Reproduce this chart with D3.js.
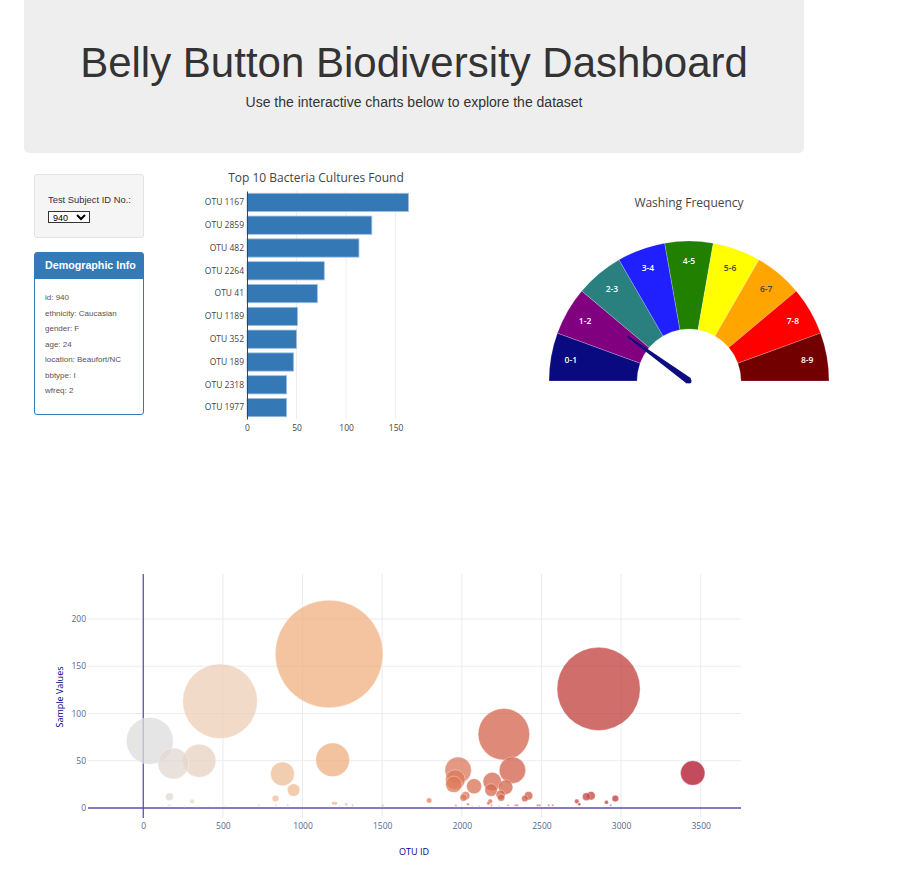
<!DOCTYPE html>
<html>
<head>
<meta charset="utf-8">
<script src="https://d3js.org/d3.v7.min.js"></script>
<style>
  body { margin: 0; background: #fff; font-family: "Liberation Sans", Arial, sans-serif; color: #333; }
  #page { position: relative; width: 921px; height: 885px; overflow: hidden; }
  #charts { position: absolute; left: 0; top: 0; }
  .jumbo { position: absolute; left: 24px; top: 0; width: 780px; height: 153px; background: #eeeeee; border-radius: 0 0 5px 5px; }
  .well { position: absolute; left: 34px; top: 174px; width: 108px; height: 62px; background: #f5f5f5; border: 1px solid #e3e3e3; border-radius: 3px; }
  .panel { position: absolute; left: 34px; top: 252px; width: 108px; height: 161px; border: 1px solid #337ab7; border-radius: 3px; background: #fff; }
  .panel-heading { background: #337ab7; color: #fff; height: 26px; line-height: 25px; padding-left: 10px; font-size: 10.7px; font-weight: bold; }
  .panel-body p { margin: 0; position: absolute; left: 10px; font-size: 8px; color: #555; }
  select { position: absolute; left: 13px; top: 36px; width: 42px; height: 12px; font-size: 9px; padding: 0; border: 1px solid #333; background: #fff; font-family: "Liberation Sans", Arial, sans-serif; }
</style>
</head>
<body>
<div id="page">
  <div class="jumbo"></div>
  <svg id="charts" width="921" height="885"></svg>
  <div class="well">
    <div id="lbl" style="position:absolute;left:13px;top:19px;font-size:9.4px;color:#333;">Test Subject ID No.:</div>
    <select id="selDataset"></select>
  </div>
  <div class="panel">
    <div class="panel-heading">Demographic Info</div>
    <div class="panel-body" id="sample-metadata"></div>
  </div>
</div>
<script>
// sample 940
const otuIds = [1167, 2859, 482, 2264, 41, 1189, 352, 189, 2318, 1977,
  3450, 874, 1959, 2191, 1950, 2077, 2275, 944, 2184, 2244,
  2024, 2419, 2811, 165, 2782, 2247, 2011, 2396, 830, 2964,
  1795, 2722, 307, 2178, 2908, 1193, 2167, 1208, 2039, 1274,
  2739, 2737, 1314, 1962, 2186, 2335, 2936, 907, 833, 2483,
  2475, 2491, 2291, 159, 2571, 2350, 2342, 2546, 725, 170,
  1505, 513, 259, 1169, 258, 1232, 1497, 1498, 1503, 412,
  2235, 1960, 1968, 121, 2065, 340, 2110, 2188, 357, 342];
const sampleValues = [163, 126, 113, 78, 71, 51, 50, 47, 40, 40,
  37, 36, 30, 28, 25, 23, 22, 19, 19, 14,
  13, 13, 13, 12, 12, 11, 11, 10, 10, 10,
  8, 7, 7, 7, 6, 5, 5, 5, 4, 4,
  4, 4, 3, 3, 3, 3, 3, 3, 3, 3,
  3, 3, 3, 3, 3, 3, 3, 3, 3, 3,
  3, 2, 2, 2, 2, 2, 2, 2, 2, 2,
  2, 2, 2, 2, 2, 2, 2, 2, 2, 2];
const subjectIds = ["940", "941", "943", "944", "945", "946", "947", "948"];
const metaKeys = ["id", "ethnicity", "gender", "age", "location", "bbtype", "wfreq"];
const metaValues = ["940", "Caucasian", "F", "24", "Beaufort/NC", "I", "2"];
const wfreq = 2;

const barTicks = [0, 50, 100, 150];
const bubbleXTicks = [0, 500, 1000, 1500, 2000, 2500, 3000, 3500];
const bubbleYTicks = [0, 50, 100, 150, 200];
const gaugeLabels = ["0-1", "1-2", "2-3", "3-4", "4-5", "5-6", "6-7", "7-8", "8-9"];
const gaugeColors = ["#0a0a80", "#800080", "#2a807f", "#2020ff", "#228000", "#ffff00", "#ffa500", "#ff0000", "#730000"];
const gaugeTextColors = ["#fff", "#fff", "#fff", "#fff", "#fff", "#444", "#444", "#fff", "#fff"];

const chartFont = "'Open Sans', verdana, arial, sans-serif";
var svg = d3.select("#charts");

function drawHeader() {
  svg.append("text").attr("x", 414).attr("y", 77).attr("text-anchor", "middle")
    .style("font-family", "'Liberation Sans', Arial, sans-serif").style("font-size", "42px").attr("fill", "#333")
    .text("Belly Button Biodiversity Dashboard");
  svg.append("text").attr("x", 414).attr("y", 107).attr("text-anchor", "middle")
    .style("font-family", "'Liberation Sans', Arial, sans-serif").style("font-size", "14px").attr("fill", "#333")
    .text("Use the interactive charts below to explore the dataset");
}

function fillPanels() {
  d3.select("#selDataset").selectAll("option").data(subjectIds).enter()
    .append("option").text(d => d).attr("value", d => d);
  var box = d3.select("#sample-metadata");
  metaKeys.forEach(function (k, i) {
    box.append("p").style("top", (40 + i * 15.5) + "px").text(k + ": " + metaValues[i]);
  });
}

function drawBars() {
  var top10 = otuIds.slice(0, 10).map((id, i) => ({ label: "OTU " + id, value: sampleValues[i] }));
  var x = d3.scaleLinear().domain([0, 171.6]).range([247, 417]);
  var y = d3.scaleBand().domain(top10.map(d => d.label)).range([191, 419]).paddingInner(0.2).paddingOuter(0.1);
  var g = svg.append("g");

  g.selectAll(".grid").data(barTicks.slice(1)).enter().append("line")
    .attr("x1", d => x(d)).attr("x2", d => x(d)).attr("y1", 191).attr("y2", 419)
    .attr("stroke", "#eee").attr("stroke-width", 1);

  g.selectAll(".bar").data(top10).enter().append("rect")
    .attr("x", x(0)).attr("y", d => y(d.label))
    .attr("width", d => x(d.value) - x(0)).attr("height", y.bandwidth())
    .attr("fill", "#3478b6").attr("stroke", "#9dbfe0").attr("stroke-width", 0.8);

  var xAxis = d3.axisBottom(x).tickValues(barTicks).tickSize(0).tickPadding(6);
  var xa = g.append("g").attr("transform", "translate(0,419)").call(xAxis);
  xa.select(".domain").remove();
  xa.selectAll("text").style("font-family", chartFont).style("font-size", "8.5px").attr("fill", "#444");

  var yAxis = d3.axisLeft(y).tickSize(0).tickPadding(3);
  var ya = g.append("g").attr("transform", "translate(247,0)").call(yAxis);
  ya.select(".domain").attr("stroke", "#444").attr("stroke-width", 1);
  ya.selectAll("text").style("font-family", chartFont).style("font-size", "8.5px").attr("fill", "#444");

  g.append("text").attr("x", 316).attr("y", 182).attr("text-anchor", "middle")
    .style("font-family", chartFont).style("font-size", "12px").attr("fill", "#444")
    .text("Top 10 Bacteria Cultures Found");
}

function drawGauge() {
  var cx = 689, cy = 381;
  var g = svg.append("g").attr("transform", `translate(${cx},${cy})`);
  var a = d3.scaleLinear().domain([0, 9]).range([-Math.PI / 2, Math.PI / 2]);
  var arc = d3.arc().innerRadius(52).outerRadius(140);
  var labelArc = d3.arc().innerRadius(120).outerRadius(120);
  var segs = gaugeLabels.map((l, i) => ({ startAngle: a(i), endAngle: a(i + 1), label: l, i: i }));

  g.selectAll(".seg").data(segs).enter().append("path")
    .attr("d", arc).attr("fill", d => gaugeColors[d.i])
    .attr("stroke", "#fff").attr("stroke-opacity", 0.35).attr("stroke-width", 0.6);

  g.selectAll(".lbl").data(segs).enter().append("text")
    .attr("transform", d => `translate(${labelArc.centroid(d)})`)
    .attr("text-anchor", "middle").attr("dy", "0.35em")
    .style("font-family", chartFont).style("font-size", "8.5px").style("font-weight", "600")
    .attr("fill", d => gaugeTextColors[d.i]).text(d => d.label);

  // needle: 0..10 over the half circle
  var deg = d3.scaleLinear().domain([0, 10]).range([180, 0]);
  var th = deg(wfreq) * Math.PI / 180;
  var len = 76, w = 3.5, wt = 0.8;
  var ux = Math.cos(th), uy = -Math.sin(th);
  var nx = -uy, ny = ux;
  var p = d3.path();
  p.moveTo(nx * w, ny * w);
  p.lineTo(len * ux + nx * wt, len * uy + ny * wt);
  p.lineTo(len * ux - nx * wt, len * uy - ny * wt);
  p.lineTo(-nx * w, -ny * w);
  p.closePath();
  g.append("path").attr("d", p.toString()).attr("fill", "#0d0d80");
  g.append("circle").attr("r", 2.5).attr("fill", "#0d0d80");

  svg.append("text").attr("x", cx).attr("y", 207).attr("text-anchor", "middle")
    .style("font-family", chartFont).style("font-size", "12px").attr("fill", "#444")
    .text("Washing Frequency");
}

function drawBubbles() {
  var left = 88, right = 741, top = 574, bottom = 818;
  var x = d3.scaleLinear().domain([-347, 3753]).range([left, right]);
  var y = d3.scaleLinear().domain([-10.6, 247.6]).range([bottom, top]);
  var r = d3.scaleLinear().domain([0, 163]).range([0, 53.8]);
  var color = d3.scaleLinear()
    .domain([41, 482, 1167, 2264, 2859, 3450])
    .range(["#dcdcdc", "#ecceb6", "#f0b080", "#d4634b", "#c03e3b", "#ae0f26"]);
  var g = svg.append("g");

  g.selectAll(".gx").data(bubbleXTicks.slice(1)).enter().append("line")
    .attr("x1", d => x(d)).attr("x2", d => x(d)).attr("y1", top).attr("y2", bottom)
    .attr("stroke", "#ebebf2");
  g.selectAll(".gy").data(bubbleYTicks.slice(1)).enter().append("line")
    .attr("x1", left).attr("x2", right).attr("y1", d => y(d)).attr("y2", d => y(d))
    .attr("stroke", "#ebebf2");

  // zero lines
  g.append("line").attr("x1", x(0)).attr("x2", x(0)).attr("y1", top).attr("y2", bottom)
    .attr("stroke", "#5a50b0").attr("stroke-width", 1.3);
  g.append("line").attr("x1", left).attr("x2", right).attr("y1", y(0)).attr("y2", y(0))
    .attr("stroke", "#5a50b0").attr("stroke-width", 1.3);

  var pts = otuIds.map((id, i) => ({ id: id, v: sampleValues[i] }));
  g.selectAll(".bub").data(pts).enter().append("circle")
    .attr("cx", d => x(d.id)).attr("cy", d => y(d.v)).attr("r", d => r(d.v))
    .attr("fill", d => color(d.id)).attr("fill-opacity", 0.75)
    .attr("stroke", "#fff").attr("stroke-opacity", 0.5).attr("stroke-width", 0.7);

  var xa = g.append("g").attr("transform", `translate(0,${bottom})`)
    .call(d3.axisBottom(x).tickValues(bubbleXTicks).tickFormat(d3.format("d")).tickSize(0).tickPadding(5));
  xa.select(".domain").remove();
  xa.selectAll("text").style("font-family", chartFont).style("font-size", "8.5px").attr("fill", "#5a6690");

  var ya = g.append("g").attr("transform", `translate(${left},0)`)
    .call(d3.axisLeft(y).tickValues(bubbleYTicks).tickSize(0).tickPadding(2));
  ya.select(".domain").remove();
  ya.selectAll("text").style("font-family", chartFont).style("font-size", "8.5px").attr("fill", "#5a6690");

  g.append("text").attr("x", 414).attr("y", 855).attr("text-anchor", "middle")
    .style("font-family", chartFont).style("font-size", "9px").attr("fill", "#000080").text("OTU ID");
  g.append("text").attr("transform", "translate(63,697) rotate(-90)").attr("text-anchor", "middle")
    .style("font-family", chartFont).style("font-size", "9px").attr("fill", "#000080").text("Sample Values");
}

drawHeader();
fillPanels();
drawBars();
drawGauge();
drawBubbles();
</script>
</body>
</html>
